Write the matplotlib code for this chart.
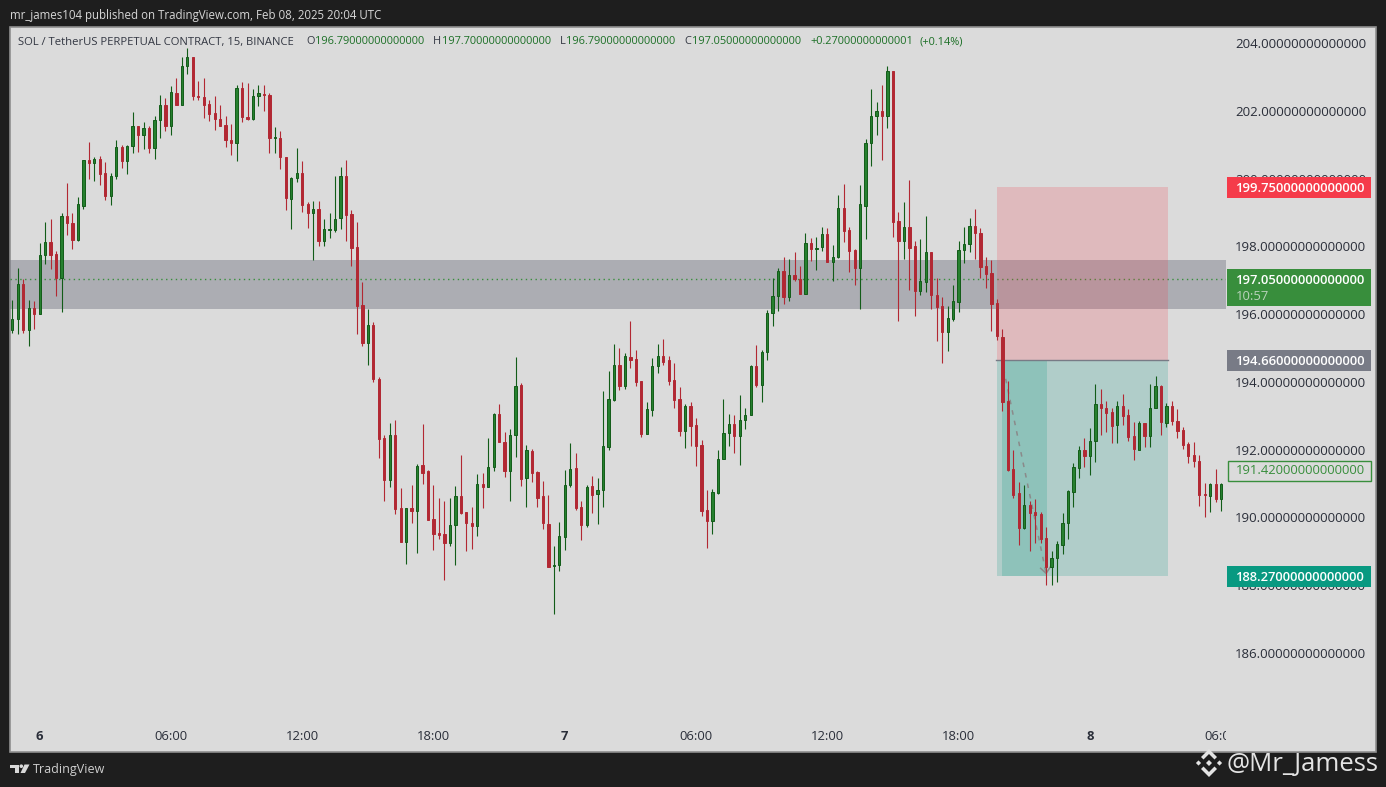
import matplotlib
matplotlib.use("Agg")
import matplotlib.pyplot as plt
from matplotlib.patches import Rectangle, Polygon, Circle
from matplotlib.ticker import FixedLocator, FixedFormatter

opens = [195.54,195.86,196.88,195.54,196.17,196.01,197.75,198.14,197.76,197.07,
198.91,198.70,198.19,199.20,200.56,200.47,200.59,200.15,199.49,200.08,
200.92,200.52,200.95,201.54,201.29,201.48,200.91,201.74,202.16,201.56,
202.51,202.18,203.31,203.60,202.45,202.42,202.19,201.92,201.77,201.57,
201.15,201.06,202.66,201.83,201.76,202.44,202.48,202.48,201.20,201.21,
200.65,199.40,200.02,200.15,199.24,198.99,199.09,198.17,198.49,198.49,
198.84,200.09,198.94,197.97,196.26,195.15,195.67,194.10,192.33,191.11,
192.42,190.27,189.28,190.27,190.20,191.54,191.36,189.94,189.54,189.50,
189.25,189.78,190.62,190.15,189.85,189.76,191.00,190.91,191.48,193.04,
192.24,191.38,192.42,193.90,191.17,191.95,191.33,190.62,189.82,188.57,
188.60,189.43,190.96,191.45,190.30,189.78,190.92,190.69,190.80,192.09,
193.48,194.49,193.89,194.73,194.67,194.02,192.47,193.18,194.46,194.75,
194.64,194.05,193.49,192.56,193.28,192.72,192.13,190.21,189.91,190.73,
191.72,192.49,192.75,192.41,192.87,193.02,194.46,193.92,194.87,196.02,
196.52,197.26,196.51,197.14,197.03,196.58,198.09,197.91,197.97,198.35,
197.53,197.68,199.12,198.47,197.88,197.37,199.20,201.04,201.84,201.99,
201.84,203.17,198.74,198.17,198.56,198.00,196.69,196.96,197.82,196.56,
196.23,195.48,195.87,196.37,197.88,198.06,198.59,198.39,197.41,197.21,
196.32,195.32,193.43,191.42,190.71,189.70,190.36,190.15,190.09,189.38,
188.55,188.81,189.20,189.84,190.76,191.47,191.98,191.82,192.26,193.34,
193.22,193.10,192.74,193.28,193.01,192.39,192.00,192.78,192.41,193.22,
193.87,192.80,193.28,192.86,192.57,192.16,191.83,191.68,190.69,190.64,
190.98,190.55]

highs = [196.43,197.35,197.05,196.43,196.38,198.09,198.71,198.82,197.85,198.97,
199.86,198.99,199.47,200.56,201.09,200.65,200.68,200.50,200.15,201.15,
200.98,200.98,201.95,201.54,201.66,201.54,201.86,202.48,202.39,202.72,
202.98,203.60,203.84,203.60,202.87,202.98,202.33,202.45,202.16,201.86,
201.60,202.75,202.84,202.81,202.63,202.75,202.75,202.51,201.51,201.39,
200.65,200.06,200.89,200.51,199.30,199.33,199.33,198.82,198.97,200.09,
200.33,200.54,199.06,198.71,196.96,196.14,195.78,194.13,192.42,192.80,
192.89,190.86,190.27,190.95,191.59,192.77,191.39,190.97,190.56,190.50,
190.56,190.92,191.83,190.15,190.30,191.27,191.30,192.33,193.07,193.34,
192.51,192.60,194.72,193.98,192.13,192.01,191.36,191.09,190.65,189.15,
189.88,191.39,192.21,191.89,190.50,190.97,191.22,191.16,193.72,194.31,
195.11,194.99,194.85,195.79,194.93,194.02,193.40,194.70,195.11,195.26,
194.75,194.55,193.84,193.34,193.40,192.93,192.28,190.80,190.83,191.98,
193.49,193.05,193.02,193.61,193.22,194.49,195.08,194.93,196.11,197.06,
197.35,197.68,197.62,197.82,197.41,198.38,198.24,198.27,198.56,198.53,
198.03,199.51,199.83,198.56,197.91,199.80,201.16,202.63,202.25,202.75,
203.31,203.17,199.01,199.30,199.95,198.15,198.21,198.89,197.82,197.06,
196.50,196.23,196.85,198.15,198.56,198.83,199.09,198.53,197.68,197.59,
196.44,195.55,194.04,191.98,191.06,190.95,190.50,190.53,190.15,189.71,
189.00,189.32,190.12,190.80,191.60,192.10,192.33,192.63,193.93,193.78,
193.43,193.22,193.43,193.63,193.19,192.81,192.84,192.78,193.93,194.16,
193.90,193.37,193.43,193.19,192.66,192.24,192.24,191.83,191.01,191.01,
191.42,191.01]

lows = [195.45,195.41,195.45,195.07,195.57,196.01,197.49,197.34,196.54,196.07,
198.34,197.93,198.16,199.11,199.99,199.93,199.82,199.37,199.23,200.00,
200.32,200.14,200.76,200.79,200.88,200.76,200.58,201.20,201.41,201.29,
202.18,202.18,203.09,202.32,202.32,201.79,201.70,201.44,201.56,200.94,
200.70,200.52,201.68,201.73,201.73,202.15,202.00,200.76,200.76,200.29,
199.08,198.52,199.90,199.02,198.55,197.60,198.02,198.02,198.25,198.43,
198.52,198.17,197.43,195.42,195.07,194.51,194.00,191.76,190.49,190.91,
190.11,189.28,188.63,189.84,188.96,190.99,189.93,189.05,189.37,188.16,
189.16,188.60,190.11,189.02,189.08,189.46,190.29,190.91,191.38,192.23,
191.20,190.49,191.79,190.94,190.32,191.05,190.32,189.67,188.55,187.16,
188.43,189.05,190.91,190.23,189.34,189.73,190.14,189.82,190.32,192.00,
193.45,193.77,193.80,194.42,193.89,192.36,192.47,192.98,194.25,194.51,
193.92,193.24,192.41,192.06,192.12,191.53,190.03,189.11,189.52,190.70,
191.72,192.12,191.91,191.56,192.62,193.02,193.86,193.42,194.66,195.66,
196.10,196.31,196.40,196.97,196.58,196.58,197.56,197.31,197.85,197.53,
196.97,197.66,198.14,197.25,196.87,196.16,198.23,200.38,201.30,200.56,
201.50,198.29,195.81,197.64,196.72,195.93,196.55,196.66,196.16,195.22,
194.57,194.92,195.81,196.07,197.52,197.84,197.64,197.08,196.78,195.51,
195.25,193.15,191.38,190.58,189.20,189.67,189.02,189.25,189.25,188.02,
188.02,188.10,188.93,189.37,190.32,191.17,191.50,191.26,191.64,192.44,
192.53,192.21,192.21,192.74,192.26,191.70,192.00,192.09,192.09,193.22,
192.44,192.68,192.74,192.35,192.03,191.62,191.50,190.35,190.02,190.17,
190.46,190.20]

closes = [195.87,196.90,195.54,196.17,196.01,197.73,198.14,197.75,197.07,198.91,
198.69,198.19,199.24,200.56,200.47,200.59,200.14,199.49,200.09,200.92,
200.52,200.95,201.54,201.29,201.48,200.91,201.74,202.16,201.56,202.54,
202.18,203.31,203.60,202.44,202.41,202.18,201.91,201.76,201.56,201.14,
201.06,202.66,201.82,201.76,202.45,202.51,202.47,201.20,201.21,200.64,
199.43,200.03,200.15,199.23,198.99,199.09,198.17,198.50,198.50,198.82,
200.09,198.93,197.96,196.25,195.15,195.67,194.09,192.32,191.11,192.42,
190.26,189.28,190.27,190.20,191.51,191.32,189.93,189.52,189.49,189.25,
189.79,190.62,190.14,189.84,189.76,191.00,190.91,191.48,193.04,192.23,
191.38,192.42,193.87,191.14,191.98,191.32,190.58,189.84,188.55,188.61,
189.44,190.97,191.42,190.29,189.78,190.89,190.67,190.80,192.10,193.49,
194.49,193.89,194.75,194.66,194.01,192.47,193.19,194.46,194.75,194.60,
194.04,193.48,192.56,193.28,192.71,192.12,190.20,189.91,190.74,191.72,
192.49,192.75,192.41,192.87,193.02,194.46,193.92,194.87,196.02,196.52,
197.26,196.51,197.14,197.03,196.58,198.09,197.91,197.94,198.35,197.53,
197.68,199.12,198.46,197.87,197.37,199.24,201.04,201.84,201.99,201.84,
203.17,198.73,198.17,198.56,197.96,196.69,196.97,197.82,196.55,196.22,
195.48,195.88,196.38,197.88,198.06,198.59,198.38,197.40,197.19,196.31,
195.34,193.42,191.41,190.67,189.70,190.36,190.14,190.08,189.37,188.55,
188.81,189.21,189.85,190.77,191.48,191.98,191.82,192.27,193.34,193.23,
193.09,192.71,193.28,193.00,192.38,192.03,192.78,192.41,193.22,193.87,
192.83,193.28,192.85,192.56,192.15,191.82,191.67,190.67,190.67,190.98,
190.55,191.00]

price_ticks = [186, 188, 190, 192, 194, 196, 198, 200, 202, 204]
time_ticks = [5, 29, 53, 77, 101, 125, 149, 173, 197, 221]
time_labels = ["6", "06:00", "12:00", "18:00", "7", "06:00", "12:00", "18:00", "8", "06:00"]
day_labels = ["6", "7", "8"]

band_low, band_high = 196.15, 197.61
last_price = 197.05
stop_price = 199.75
entry_price = 194.66
target_price = 188.27
position_start, position_end = 180.0, 211.3
inner_start, inner_end = 181.0, 189.2
path_index = [181.2, 189.0, 188.0, 189.0, 190.0]
path_price = [194.4, 188.35, 188.5, 188.35, 188.6]

W, H = 1386, 787
BG = "#1e1e1e"
PANEL = "#dbdbdb"
GREEN_BODY = "#26802f"
GREEN_EDGE = "#125c18"
RED = "#b22833"
FONT = "Open Sans"
plt.rcParams["font.family"] = FONT

fig = plt.figure(figsize=(W / 100, H / 100), dpi=100, facecolor=BG)

def px_axes(left, top, right, bottom):
    return fig.add_axes([left / W, 1 - bottom / H, (right - left) / W, (bottom - top) / H])

bg = px_axes(0, 0, W, H)
bg.set_xlim(0, W); bg.set_ylim(H, 0); bg.axis("off"); bg.set_zorder(0)
bg.add_patch(Rectangle((10, 27), 1366, 725, facecolor=PANEL, edgecolor="#8f8f8f", lw=1.2))

ax = px_axes(10, 27, 1226, 752)
ax.set_zorder(1)
ax.patch.set_alpha(0)
for s in ax.spines.values():
    s.set_visible(False)
ax.set_xlim((10 - 12.3) / 5.47, (1226 - 12.3) / 5.47)
ax.set_ylim(204 - (752 - 43) / 33.89, 204 + 16 / 33.89)

# overlays on the chart
ax.axhspan(band_low, band_high, facecolor="#787b86", alpha=0.47, lw=0, zorder=1)
ax.axhline(last_price, color="#388e3c", lw=1, ls=(0, (1, 2.5)), zorder=1.5)
ax.add_patch(Rectangle((position_start, entry_price), position_end - position_start,
                       stop_price - entry_price, facecolor="#f23645", alpha=0.2, lw=0, zorder=2))
ax.add_patch(Rectangle((position_start, target_price), position_end - position_start,
                       entry_price - target_price, facecolor="#089981", alpha=0.2, lw=0, zorder=2))
ax.add_patch(Rectangle((inner_start, target_price), inner_end - inner_start,
                       entry_price - target_price, facecolor="#089981", alpha=0.2, lw=0, zorder=2.1))
ax.plot([position_start - 0.2, position_end], [entry_price, entry_price], color="#787b86", lw=1, zorder=2.2)
ax.plot(path_index[:2], path_price[:2], color="#8a8a8a", lw=1.1, ls=(0, (3, 4)), zorder=2.3)
ax.plot(path_index[2:], path_price[2:], color="#8a8a8a", lw=1.1, zorder=2.3)

# candles
for i, (o, h, l, c) in enumerate(zip(opens, highs, lows, closes)):
    up = c >= o
    ax.vlines(i, l, h, color=GREEN_EDGE if up else RED, lw=0.8, zorder=3)
    ax.bar(i, max(abs(c - o), 0.03), bottom=min(o, c), width=0.42,
           facecolor=GREEN_BODY if up else RED,
           edgecolor=GREEN_EDGE if up else RED, lw=0.7, zorder=4)

ax.yaxis.tick_right()
ax.yaxis.set_major_locator(FixedLocator(price_ticks))
ax.yaxis.set_major_formatter(FixedFormatter([f"{v:.14f}" for v in price_ticks]))
ax.tick_params(axis="y", length=0, pad=6.5, labelsize=9.5, labelcolor="#2a2e39")
ax.xaxis.set_major_locator(FixedLocator(time_ticks))
ax.xaxis.set_major_formatter(FixedFormatter(time_labels))
ax.tick_params(axis="x", length=0, pad=-16, labelsize=9.4, labelcolor="#2a2e39")
fig.canvas.draw()
for lab in ax.get_xticklabels():
    if lab.get_text() in day_labels:
        lab.set_fontweight("bold")
    lab.set_clip_on(True)
    lab.set_clip_box(ax.bbox)

# overlay
ov = px_axes(0, 0, W, H)
ov.set_xlim(0, W); ov.set_ylim(H, 0); ov.axis("off"); ov.set_zorder(2); ov.patch.set_alpha(0)

ov.text(10, 16, "mr_james104 published on TradingView.com, Feb 08, 2025 20:04 UTC",
        color="#d6d6d6", fontsize=8.3, va="center", fontweight="medium")

G = "#1b6f25"; D = "#333742"
ov.text(18, 42, "SOL / TetherUS PERPETUAL CONTRACT, 15, BINANCE", color=D, fontsize=8.15, va="center")
legend_parts = [
    (306, "O", D), (315, "196.79000000000000", G),
    (433, "H", D), (442, "197.70000000000000", G),
    (560, "L", D), (566, "196.79000000000000", G),
    (684, "C", D), (692, "197.05000000000000", G),
    (810, "+0.27000000000001", G), (919, "(+0.14%)", G),
]
for x, s, col in legend_parts:
    ov.text(x, 42, s, color=col, fontsize=7.9, va="center")

labels = [
    (177, 21, "#f53b4a", "199.75000000000000", "white"),
    (269, 37, "#388e3c", "197.05000000000000", "white"),
    (350, 21, "#787b86", "194.66000000000000", "white"),
    (566, 21, "#089981", "188.27000000000000", "white"),
]
for top, h, col, s, tc in labels:
    ov.add_patch(Rectangle((1227, top), 144, h, facecolor=col, lw=0))
    ov.text(1236, top + (11.5 if h == 21 else 12), s, color=tc, fontsize=9.4, va="center", fontweight="semibold")
ov.text(1236, 296.5, "10:57", color="#b9d2bb", fontsize=9.4, va="center")
ov.add_patch(Rectangle((1227.5, 460.5), 143, 20, facecolor=PANEL, edgecolor="#388e3c", lw=1))
ov.text(1236, 471, "191.42000000000000", color="#388e3c", fontsize=9.4, va="center")

# TradingView mark
mark = "#d8d8d8"
ov.add_patch(Polygon([(10, 764.5), (19, 764.5), (19, 773), (15, 773), (15, 768), (10, 768)], facecolor=mark, lw=0))
ov.add_patch(Circle((21.3, 766.2), 1.8, facecolor=mark, lw=0))
ov.add_patch(Polygon([(24.5, 764.5), (29.5, 764.5), (25, 773), (20.5, 773)], facecolor=mark, lw=0))
ov.text(33, 769.5, "TradingView", color="#cfcfcf", fontsize=9.0, va="center", fontweight="medium")

# Watermark
wm = "#e4e4e4"
cx, cy = 1209, 763
def diamond(x, y, r):
    ov.add_patch(Polygon([(x, y - r), (x + r, y), (x, y + r), (x - r, y)], facecolor=wm, lw=0))
diamond(cx, cy, 3)
diamond(cx - 10.5, cy, 2.6)
diamond(cx + 10.5, cy, 2.6)
ov.add_patch(Polygon([(cx, cy - 14), (cx + 8, cy - 6), (cx + 5.5, cy - 3.5), (cx, cy - 9),
                      (cx - 5.5, cy - 3.5), (cx - 8, cy - 6)], facecolor=wm, lw=0))
ov.add_patch(Polygon([(cx, cy + 14), (cx + 8, cy + 6), (cx + 5.5, cy + 3.5), (cx, cy + 9),
                      (cx - 5.5, cy + 3.5), (cx - 8, cy + 6)], facecolor=wm, lw=0))
ov.text(1226, 764, "@Mr_Jamess", color=wm, fontsize=18.5, va="center")

fig.savefig("out.png", dpi=100, facecolor=BG)
